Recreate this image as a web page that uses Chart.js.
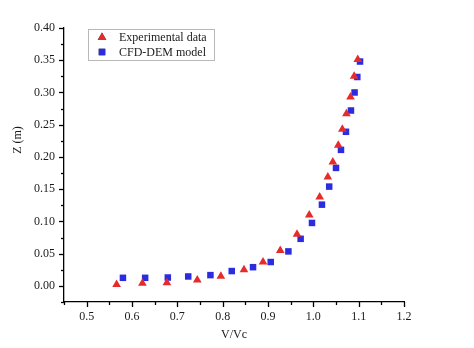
<!DOCTYPE html>
<html>
<head>
<meta charset="utf-8">
<script src="https://cdn.jsdelivr.net/npm/chart.js@4"></script>
<style>
  html, body { margin: 0; padding: 0; background: #fff; }
  #wrap { width: 474px; height: 348px; }
</style>
</head>
<body>
<div id="wrap"><canvas id="chart" width="474" height="348"></canvas></div>
<script>
// experimental points (V/Vc, Z)
const expX = [0.566, 0.623, 0.677, 0.744, 0.796, 0.847, 0.889, 0.927, 0.964, 0.991,
              1.014, 1.032, 1.043, 1.055, 1.064, 1.073, 1.082, 1.090, 1.098];
const expZ = [0.002, 0.004, 0.005, 0.009, 0.015, 0.025, 0.037, 0.055, 0.080, 0.110,
              0.138, 0.169, 0.192, 0.218, 0.243, 0.267, 0.293, 0.325, 0.351];

// simulation points
const cfdX = [0.580, 0.629, 0.679, 0.724, 0.773, 0.820, 0.867, 0.906, 0.945, 0.972,
              0.997, 1.019, 1.035, 1.050, 1.061, 1.072, 1.083, 1.091, 1.097, 1.103];
const cfdZ = [0.0125, 0.0125, 0.013, 0.0146, 0.0167, 0.023, 0.029, 0.037, 0.0535, 0.073,
              0.0976, 0.126, 0.154, 0.183, 0.211, 0.239, 0.272, 0.300, 0.324, 0.348];

const xTicks = [0.5, 0.6, 0.7, 0.8, 0.9, 1.0, 1.1, 1.2];
const yTicks = [0.00, 0.05, 0.10, 0.15, 0.20, 0.25, 0.30, 0.35, 0.40];

const seriesNames = ['Experimental data', 'CFD-DEM model'];

const RED = '#e52b2b';
const BLUE = '#2b2be0';
const FONT = "'Liberation Serif', 'Times New Roman', serif";

function toPoints(xs, ys) {
  return xs.map((x, i) => ({ x: x, y: ys[i] }));
}

// outward major/minor tick marks, Origin style
const tickMarks = {
  id: 'tickMarks',
  afterDraw(chart) {
    const ctx = chart.ctx;
    const xs = chart.scales.x, ys = chart.scales.y;
    const ca = chart.chartArea;
    ctx.save();
    ctx.strokeStyle = '#000';
    ctx.lineWidth = 1.3;
    for (let v = 0.45; v <= 1.2001; v += 0.05) {
      const major = Math.abs(v * 10 - Math.round(v * 10)) < 1e-6;
      const px = Math.round(xs.getPixelForValue(v)) + 0.5;
      ctx.beginPath();
      ctx.moveTo(px, ca.bottom);
      ctx.lineTo(px, ca.bottom + (major ? 5 : 3));
      ctx.stroke();
    }
    for (let v = -0.025; v <= 0.4001; v += 0.025) {
      const major = Math.abs(v * 20 - Math.round(v * 20)) < 1e-6;
      const py = Math.round(ys.getPixelForValue(v)) + 0.5;
      ctx.beginPath();
      ctx.moveTo(ca.left, py);
      ctx.lineTo(ca.left - (major ? 5 : 3), py);
      ctx.stroke();
    }
    ctx.restore();
  }
};

// legend box in the upper left of the plot + y title
const innerLegend = {
  id: 'innerLegend',
  afterDraw(chart) {
    const ctx = chart.ctx;
    ctx.save();
    ctx.strokeStyle = '#b8b8b8';
    ctx.lineWidth = 1;
    ctx.strokeRect(88.5, 29.5, 126, 31);
    ctx.font = '12px ' + FONT;
    ctx.fillStyle = '#1a1a1a';
    ctx.textBaseline = 'middle';
    chart.data.datasets.forEach((ds, i) => {
      const y = 37.5 + i * 14.5;
      Chart.helpers.drawPoint(ctx, {
        pointStyle: ds.pointStyle,
        radius: ds.pointRadius,
        borderWidth: 0
      }, 102, y);
      ctx.fillStyle = ds.backgroundColor;
      ctx.fill();
      ctx.fillStyle = '#1a1a1a';
      ctx.fillText(ds.label, 119, y + 0.5);
    });

    ctx.translate(18, 140);
    ctx.rotate(-Math.PI / 2);
    ctx.textAlign = 'center';
    ctx.font = '12px ' + FONT;
    ctx.fillText('Z (m)', 0, 0);
    ctx.restore();
  }
};

window.addEventListener('DOMContentLoaded', () => {
  const ctx = document.getElementById('chart').getContext('2d');

  new Chart(ctx, {
    type: 'scatter',
    data: {
      datasets: [{
        label: seriesNames[0],
        data: toPoints(expX, expZ),
        pointStyle: 'triangle',
        pointRadius: 5,
        pointHoverRadius: 5,
        backgroundColor: RED,
        borderColor: RED,
        borderWidth: 0
      }, {
        label: seriesNames[1],
        data: toPoints(cfdX, cfdZ),
        pointStyle: 'rect',
        pointRadius: 4.6,
        pointHoverRadius: 4.6,
        backgroundColor: BLUE,
        borderColor: BLUE,
        borderWidth: 0
      }]
    },
    options: {
      responsive: false,
      animation: false,
      events: [],
      layout: { padding: { top: 28, right: 70, left: 0, bottom: 0 } },
      plugins: {
        legend: { display: false },
        tooltip: { enabled: false }
      },
      scales: {
        x: {
          type: 'linear',
          min: 0.45,
          max: 1.2,
          afterBuildTicks: (s) => { s.ticks = xTicks.map(v => ({ value: v })); },
          afterFit: (s) => { s.height = 46; },
          grid: { drawOnChartArea: false, drawTicks: false },
          border: { display: true, color: '#000', width: 1.3 },
          ticks: {
            color: '#1a1a1a',
            padding: 8,
            maxRotation: 0,
            font: { family: FONT, size: 12 },
            callback: (v) => Number(v).toFixed(1)
          },
          title: {
            display: true,
            text: 'V/Vc',
            color: '#1a1a1a',
            padding: { top: 2, bottom: 6 },
            font: { family: FONT, size: 12 }
          }
        },
        y: {
          type: 'linear',
          min: -0.025,
          max: 0.40,
          afterBuildTicks: (s) => { s.ticks = yTicks.map(v => ({ value: v })); },
          afterFit: (s) => { s.width = 64; },
          grid: { drawOnChartArea: false, drawTicks: false },
          border: { display: true, color: '#000', width: 1.3 },
          ticks: {
            color: '#1a1a1a',
            padding: 9,
            font: { family: FONT, size: 12 },
            callback: (v) => Number(v).toFixed(2)
          }
        }
      }
    },
    plugins: [tickMarks, innerLegend]
  });
});
</script>
</body>
</html>
